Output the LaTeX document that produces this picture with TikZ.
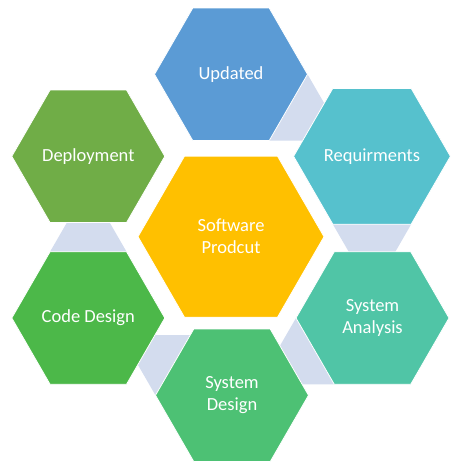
\documentclass[tikz,border=0pt]{standalone}
\usepackage{fontspec}
\setmainfont{Carlito}
\usetikzlibrary{shapes.geometric,backgrounds,calc}
\definecolor{cUpd}{HTML}{5B9BD5}
\definecolor{cReq}{HTML}{56C1CD}
\definecolor{cSA}{HTML}{50C5A6}
\definecolor{cSD}{HTML}{4DC174}
\definecolor{cCD}{HTML}{4CB849}
\definecolor{cDep}{HTML}{70AD47}
\definecolor{cCen}{HTML}{FFC000}
\definecolor{cLink}{HTML}{D3DCEE}
\begin{document}
\begin{tikzpicture}[x=1pt,y=-1pt,
  hexa/.style={regular polygon, regular polygon sides=6, minimum size=153pt,
    inner sep=0pt, outer sep=0pt, draw=white, line width=0.8pt, text=white,
    align=center, font=\fontsize{18.5}{22}\selectfont},
  bighexa/.style={hexa, minimum size=186pt},
  linkshape/.style={fill=cLink}]
\useasboundingbox (0,0) rectangle (465,473);

\node[hexa, fill=cUpd] (U) at (231,74.3) {Updated};
\node[hexa, fill=cReq] (R) at (372,156.3) {Requirments};
\node[hexa, fill=cSA]  (S) at (372.5,318) {System\\Analysis};
\node[hexa, fill=cSD]  (D) at (232,395.3) {System\\Design};
\node[hexa, fill=cCD]  (C) at (88.3,318) {Code Design};
\node[hexa, fill=cDep] (P) at (88.3,156.3) {Deployment};
\node[bighexa, fill=cCen] (M) at (231,236.7) {Software\\Prodcut};

% corner k: 1 top-left, 2 left, 3 bottom-left, 4 bottom-right, 5 right, 6 top-right
\foreach \n in {U,R,S,D,C,P}{
  \foreach \k/\j in {1/2,2/3,3/4,4/5,5/6,6/1}{
    \coordinate (\n\k) at (\n.corner \j);
  }
}
\coordinate (D1s) at ($(D1)+(0,6)$);
\coordinate (D6s) at ($(D6)+(0,6)$);

\begin{pgfonlayer}{background}
  % Updated -> Requirments
  \fill[linkshape] (U5) -- (U4) -- (intersection of U3--U4 and R1--R2)
    -- (intersection of U6--U5 and R1--R2) -- cycle;
  % Requirments -> System Analysis
  \fill[linkshape] (R3) -- (R4) -- (intersection of R5--R4 and S1--S6)
    -- (intersection of R2--R3 and S1--S6) -- cycle;
  % System Analysis -> System Design
  \fill[linkshape] (S2) -- (S3) -- (intersection of S4--S3 and D6--D5)
    -- (intersection of S1--S2 and D6--D5) -- cycle;
  % System Design -> Code Design
  \fill[linkshape] (intersection of D6s--D1s and D1--D2) -- (D2)
    -- (intersection of D3--D2 and C5--C4)
    -- (intersection of D6s--D1s and C5--C4) -- cycle;
  % Code Design -> Deployment
  \fill[linkshape] (C1) -- (C6) -- (intersection of C5--C6 and P3--P4)
    -- (intersection of C2--C1 and P3--P4) -- cycle;
\end{pgfonlayer}
\end{tikzpicture}
\end{document}
